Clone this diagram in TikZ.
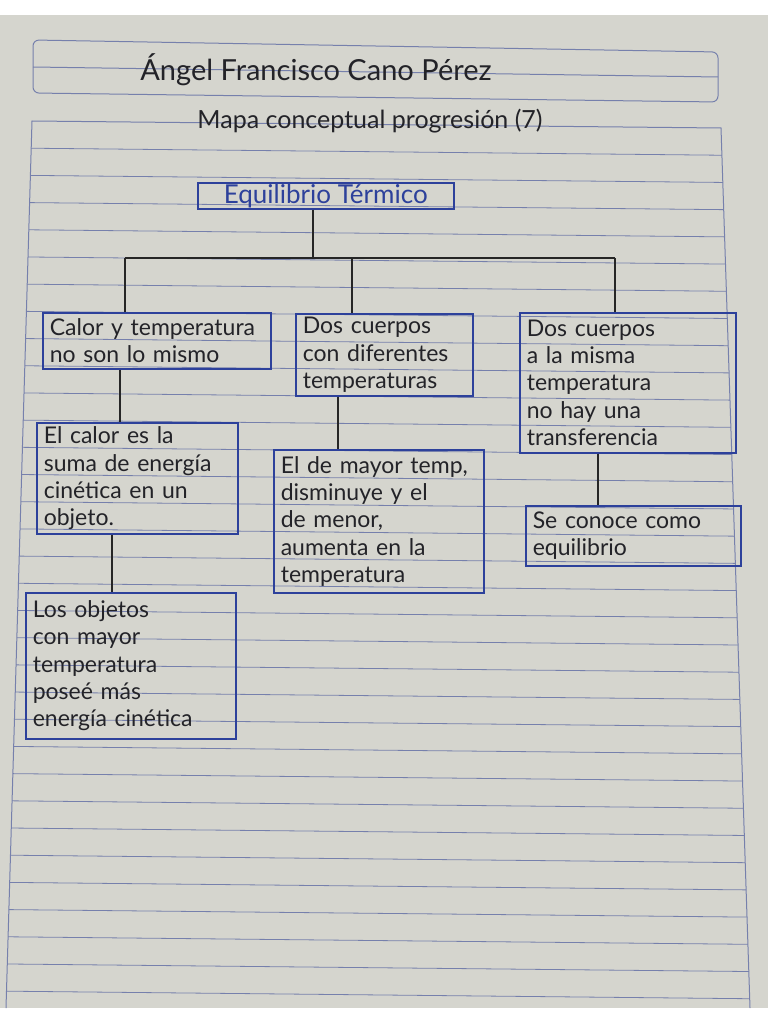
\documentclass[tikz,border=0pt]{standalone}
\usepackage{fontspec}
\setmainfont{Lato}
\definecolor{paper}{RGB}{213,213,206}
\definecolor{ruleblue}{RGB}{118,128,172}
\definecolor{penblue}{RGB}{45,65,155}
\definecolor{ink}{RGB}{35,35,40}
\begin{document}
\begin{tikzpicture}[x=1pt,y=-1pt,
  box/.style={draw=penblue, line width=1.6pt, rectangle, anchor=north west,
    inner xsep=7pt, inner ysep=0pt, align=left, text=ink,
    font=\fontsize{23}{27.2}\selectfont},
  link/.style={draw=black!85, line width=2pt},
  ruled/.style={draw=ruleblue, line width=0.8pt},
  hand/.style={text=ink}]
\useasboundingbox (0,0) rectangle (768,1024);
\fill[white] (0,0) rectangle (768,1024);
\fill[paper] (0,15) rectangle (768,1008);
% ruled lines inside the frame
\begin{scope}
  \clip (32,121) -- (721,128) -- (750,1008) -- (6,1008) -- cycle;
  \foreach \k in {1,...,32}
    \draw[ruled] (0,{121+27.2*\k-0.3}) -- (768,{121+27.2*\k+7.5});
\end{scope}
\draw[ruled, line width=1pt] (6,1008) -- (32,121) -- (721,128) -- (750,1008);
% title box
\draw[ruled, line width=1pt, rounded corners=6pt] (33,93) -- (33,40) -- (718,52) -- (718,102) -- cycle;
\draw[ruled, line width=1pt] (33,67) -- (718,77);
\node[hand, font=\fontsize{29}{32}\selectfont] (name) at (316,70) {Ángel Francisco Cano Pérez};
\node[hand, font=\fontsize{25}{30}\selectfont] (sub) at (370,121) {Mapa conceptual progresión (7)};
% concept boxes
\node[box, minimum width=256, minimum height=26, align=center, text=penblue,
  font=\fontsize{26}{28}\selectfont] (eq) at (197,182) {Equilibrio Térmico};
\node[box, minimum width=228, minimum height=56, text width=214] (calor) at (42,312)
  {Calor y temperatura\\no son lo mismo};
\node[box, minimum width=177, minimum height=82, text width=163] (dos) at (295,313)
  {Dos cuerpos\\con diferentes\\temperaturas};
\node[box, minimum width=216, minimum height=140, text width=202] (misma) at (519,312)
  {Dos cuerpos\\a la misma\\temperatura\\no hay una\\transferencia};
\node[box, minimum width=201, minimum height=111, text width=187] (elcalor) at (36,422)
  {El calor es la\\suma de energía\\cinética en un\\objeto.};
\node[box, minimum width=210, minimum height=143, text width=196] (mayor) at (273,449)
  {El de mayor temp,\\disminuye y el\\de menor,\\aumenta en la\\temperatura};
\node[box, minimum width=215, minimum height=60, text width=201] (conoce) at (525,505)
  {Se conoce como\\equilibrio};
\node[box, minimum width=210, minimum height=146, text width=196] (objetos) at (25,592)
  {Los objetos\\con mayor\\temperatura\\poseé más\\energía cinética};
% connectors
\coordinate (stem) at (313,258);
\coordinate (bl) at (125,258);
\coordinate (bm) at (352,258);
\coordinate (br) at (615,258);
\draw[link] (stem |- eq.south) -- (stem);
\draw[link] (bl) -- (br);
\draw[link] (bl) -- (bl |- calor.north);
\draw[link] (bm) -- (bm |- dos.north);
\draw[link] (br) -- (br |- misma.north);
\coordinate (x1) at (120,0);
\coordinate (x2) at (338,0);
\coordinate (x3) at (598,0);
\coordinate (x4) at (112,0);
\draw[link] (x1 |- calor.south) -- (x1 |- elcalor.north);
\draw[link] (x2 |- dos.south) -- (x2 |- mayor.north);
\draw[link] (x3 |- misma.south) -- (x3 |- conoce.north);
\draw[link] (x4 |- elcalor.south) -- (x4 |- objetos.north);
\end{tikzpicture}
\end{document}
